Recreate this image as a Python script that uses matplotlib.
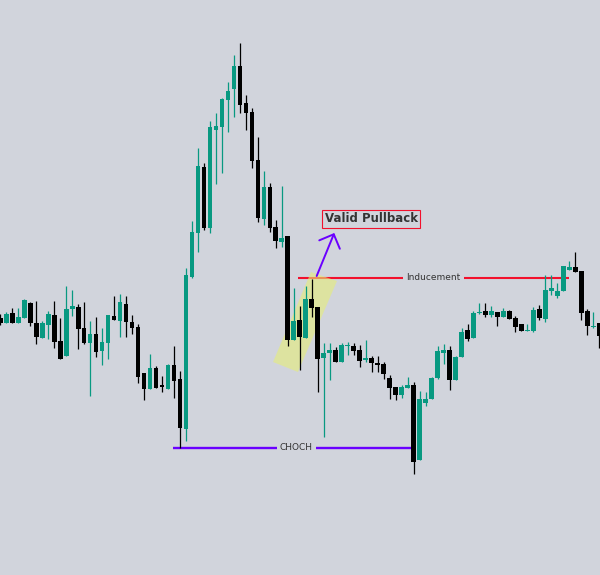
import numpy as np
import matplotlib.pyplot as plt
from matplotlib.patches import Polygon

# candle levels, in screen rows (smaller = higher price)
opens = [318, 323, 313, 323, 318, 303, 323, 338, 325, 315,
         341, 356, 309, 307, 328, 343, 334, 351, 343, 316,
         321, 304, 322, 327, 373, 389, 368, 385, 389, 365,
         379, 429, 277, 233, 167, 228, 130, 127, 100, 89,
         66, 103, 112, 160, 219, 187, 227, 242, 236, 340,
         320, 338, 299, 307, 358, 353, 350, 362, 346, 346,
         350, 360, 358, 363, 364, 378, 387, 395, 388, 385,
         460, 403, 399, 378, 353, 350, 380, 357, 330, 338,
         313, 311, 315, 312, 317, 311, 318, 324, 331, 331,
         309, 319, 291, 296, 291, 270, 267, 271, 311, 327,
         323]
closes = [323, 314, 323, 317, 300, 323, 337, 323, 314, 342,
          359, 309, 306, 329, 343, 334, 352, 342, 315, 320,
          302, 322, 328, 377, 389, 368, 388, 387, 365, 381,
          428, 275, 232, 166, 228, 127, 126, 99, 91, 66,
          105, 113, 161, 218, 187, 228, 241, 238, 340, 321,
          337, 299, 308, 359, 353, 350, 362, 345, 345, 351,
          361, 358, 363, 365, 374, 388, 395, 387, 385, 462,
          399, 399, 378, 351, 350, 380, 357, 332, 339, 313,
          312, 315, 311, 317, 311, 319, 327, 331, 330, 310,
          318, 290, 288, 291, 266, 267, 272, 313, 326, 326,
          336]
highs = [314, 312, 308, 308, 299, 302, 301, 321, 311, 301,
         318, 286, 290, 304, 302, 321, 317, 328, 315, 296,
         294, 296, 315, 324, 373, 354, 366, 376, 364, 346,
         371, 268, 221, 148, 163, 121, 113, 98, 82, 55,
         43, 95, 108, 137, 171, 183, 220, 186, 236, 288,
         306, 286, 279, 307, 343, 343, 347, 343, 342, 343,
         345, 340, 356, 356, 362, 375, 387, 385, 377, 382,
         391, 392, 377, 346, 344, 346, 356, 328, 324, 311,
         303, 303, 306, 312, 308, 310, 316, 324, 324, 307,
         305, 275, 275, 283, 266, 261, 252, 271, 309, 312,
         323]
lows = [325, 323, 323, 323, 318, 326, 344, 338, 339, 348,
        359, 356, 316, 349, 344, 396, 357, 365, 359, 320,
        337, 337, 334, 383, 400, 389, 388, 392, 389, 398,
        448, 441, 278, 252, 230, 233, 184, 173, 132, 117,
        113, 130, 168, 222, 225, 232, 248, 247, 346, 340,
        370, 338, 317, 392, 437, 380, 362, 362, 355, 355,
        367, 362, 372, 372, 379, 399, 400, 398, 388, 474,
        460, 406, 399, 379, 364, 390, 380, 357, 341, 338,
        314, 317, 317, 326, 317, 319, 332, 331, 331, 332,
        320, 322, 295, 298, 291, 270, 272, 320, 335, 328,
        348]

# annotation levels
choch_level = 447.5
choch_span = (28.83, 69.4)
inducement_level = 278
inducement_span = (49.7, 94.94)
zone_corners = [(45.53, 362), (49.70, 372), (56.21, 281), (51.87, 272)]

bg = '#d1d4dc'
up_col = '#089981'
down_col = '#000000'
red = '#f2102c'
purple = '#6a00ff'

o = np.array(opens)
c = np.array(closes)
h = np.array(highs)
l = np.array(lows)
x = np.arange(len(o))
up = c < o
cols = np.where(up, up_col, down_col)

fig = plt.figure(figsize=(6, 5.75), dpi=100)
fig.patch.set_facecolor(bg)
ax = fig.add_axes([0, 0, 1, 1])
ax.set_facecolor(bg)

# inducement line (under the zone)
ax.hlines(inducement_level, *inducement_span, color=red, lw=1.5, zorder=1)
ax.text(np.mean([72.0, 72.6]), inducement_level, 'Inducement', fontsize=6.5, color='#333333',
        ha='center', va='center', zorder=1.5,
        bbox=dict(boxstyle='square,pad=0.35', fc=bg, ec='none'))

# pullback zone
ax.add_patch(Polygon(zone_corners, closed=True, fc='#e6ee78', ec='none', alpha=0.6, zorder=2))

# candles
body_bottom = np.minimum(o, c)
body_h = np.maximum(np.abs(o - c), 1.2)
ax.vlines(x, h, l, colors=cols, lw=0.9, zorder=3)
ax.bar(x, body_h, bottom=body_bottom, width=0.78, color=cols, lw=0, zorder=4)

# CHOCH line
ax.hlines(choch_level, *choch_span, color=purple, lw=1.7, zorder=2.5)
ax.text(49.4, choch_level, 'CHOCH', fontsize=6.5, color='#333333',
        ha='center', va='center', zorder=2.6,
        bbox=dict(boxstyle='square,pad=0.35', fc=bg, ec='none'))

# arrow + label
ax.annotate('', xy=(55.76, 233), xytext=(52.82, 276),
            arrowprops=dict(arrowstyle='->,head_length=0.4,head_width=0.4',
                            color=purple, lw=1.4, mutation_scale=20,
                            shrinkA=0, shrinkB=0), zorder=5)
ax.text(61.89, 219, 'Valid Pullback', fontsize=8.5, fontweight='bold', color='#333333',
        ha='center', va='center', zorder=5,
        bbox=dict(boxstyle='square,pad=0.25', fc=bg, ec=red, lw=0.8))

ax.set_xlim(-0.05, 100.12)
ax.set_ylim(575, 0)
ax.set_axis_off()

fig.savefig('out.png', dpi=100, facecolor=bg)
